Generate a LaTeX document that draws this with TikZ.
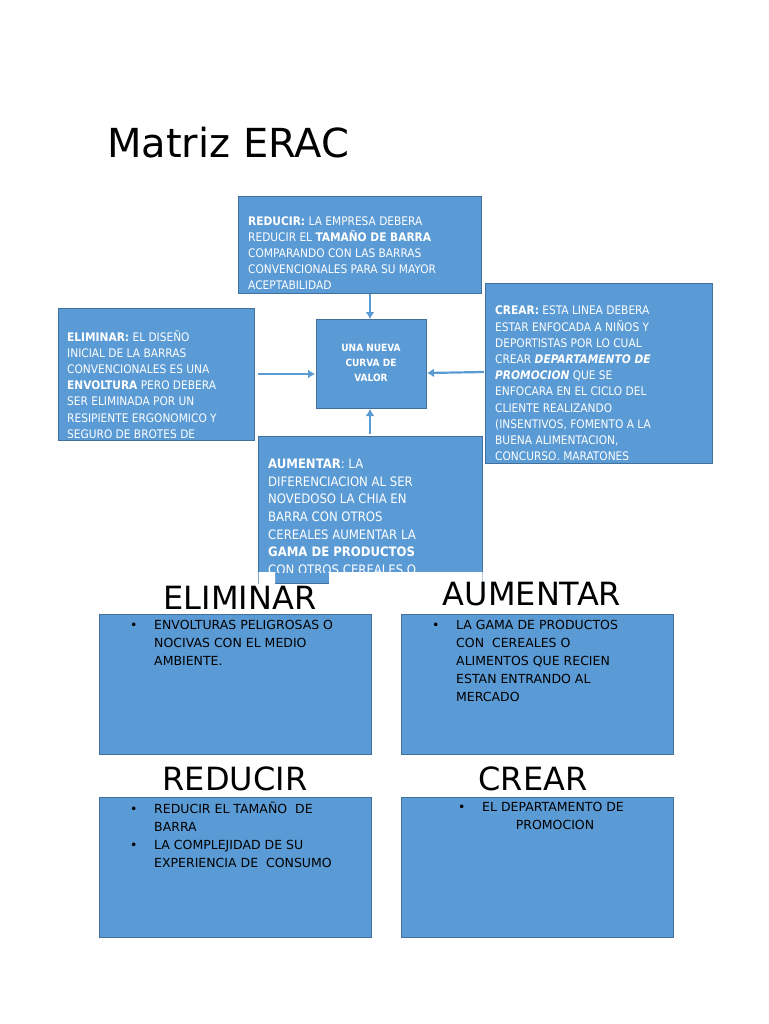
\documentclass[tikz,border=0pt]{standalone}
\usetikzlibrary{arrows.meta}
\usepackage{fontspec}
\setmainfont{DejaVu Sans}
\newfontfamily\cond{DejaVu Sans Condensed}
\definecolor{bfill}{HTML}{5B9BD5}
\definecolor{bline}{HTML}{41719C}
\begin{document}
\begin{tikzpicture}[x=1pt,y=-1pt,
  bx/.style={fill=bfill,draw=bline,line width=0.8pt},
  wt/.style={anchor=north west,inner sep=0pt,align=left,text=white},
  arr/.style={draw=bfill,line width=2.2pt,-{Latex[length=7pt,width=9pt]}},
  head/.style={font=\fontsize{32}{36}\selectfont,inner sep=0pt},
  bl/.style={anchor=north west,inner sep=0pt,align=left,font=\fontsize{12.5}{18}\selectfont}]
\useasboundingbox (0,0) rectangle (768,1024);
\node[anchor=base west,inner sep=0pt,font=\fontsize{40}{44}\selectfont] (title) at (107,158) {Matriz ERAC};
% reducir
\draw[bx] (238,196) rectangle (481,293);
\begin{scope}\clip (238,196) rectangle (481,290);
\node[wt,font=\cond\fontsize{11.8}{16}\selectfont] (tr) at (248,217) {\textbf{REDUCIR:} LA EMPRESA DEBERA\\REDUCIR EL \textbf{TAMAÑO DE BARRA}\\COMPARANDO CON LAS BARRAS\\CONVENCIONALES PARA SU MAYOR\\ACEPTABILIDAD};
\end{scope}
\coordinate (rb) at (370,294);
% center
\draw[bx] (316,319) rectangle (426,408);
\node[align=center,text=white,font=\cond\bfseries\fontsize{10}{15}\selectfont] (c) at (371,363) {UNA NUEVA\\CURVA DE\\VALOR};
\coordinate (ct) at (370,319);\coordinate (cb) at (370,409);\coordinate (cl) at (315,374);\coordinate (cr) at (427,373);
% eliminar
\draw[bx] (58,308) rectangle (254,440);
\begin{scope}\clip (58,308) rectangle (254,437);
\node[wt,font=\cond\fontsize{11.8}{16.2}\selectfont] (te) at (67,330) {\textbf{ELIMINAR:} EL DISEÑO\\INICIAL DE LA BARRAS\\CONVENCIONALES ES UNA\\\textbf{ENVOLTURA} PERO DEBERA\\SER ELIMINADA POR UN\\RESIPIENTE ERGONOMICO Y\\SEGURO DE BROTES DE};
\end{scope}
\coordinate (eb) at (258,374);
% crear
\draw[bx] (485,283) rectangle (712,463);
\begin{scope}\clip (485,283) rectangle (712,459);
\node[wt,font=\cond\fontsize{11.8}{16.2}\selectfont] (tc) at (495,306) {\textbf{CREAR:} ESTA LINEA DEBERA\\ESTAR ENFOCADA A NIÑOS Y\\DEPORTISTAS POR LO CUAL\\CREAR \textbf{\itshape DEPARTAMENTO DE}\\\textbf{\itshape PROMOCION} QUE SE\\ENFOCARA EN EL CICLO DEL\\CLIENTE REALIZANDO\\(INSENTIVOS, FOMENTO A LA\\BUENA ALIMENTACION,\\CONCURSO, MARATONES};
\end{scope}
\coordinate (crb) at (484,372);
% aumentar
\draw[bx] (258,436) rectangle (482,583);
\begin{scope}\clip (258,436) rectangle (482,572);
\node[wt,font=\cond\fontsize{13}{17.6}\selectfont] (ta) at (268,459) {\textbf{AUMENTAR}: LA\\DIFERENCIACION AL SER\\NOVEDOSO LA CHIA EN\\BARRA CON OTROS\\CEREALES AUMENTAR LA\\\textbf{GAMA DE PRODUCTOS}\\CON OTROS CEREALES O};
\end{scope}
\fill[white] (258.5,572) rectangle (275,584) (329,572) rectangle (482.5,584);
\coordinate (ab) at (370,434);
\draw[arr] (rb) -- (ct);
\draw[arr] (eb) -- (cl);
\draw[arr] (crb) -- (cr);
\draw[arr] (ab) -- (cb);
% bottom
\node[head] (h1) at (240,598) {ELIMINAR};
\node[head] (h2) at (532,594) {AUMENTAR};
\node[head] (h3) at (235,779) {REDUCIR};
\node[head] (h4) at (533,779) {CREAR};
\draw[bx] (99,614) rectangle (371,754);
\draw[bx] (401,614) rectangle (673,754);
\draw[bx] (99,797) rectangle (371,937);
\draw[bx] (401,797) rectangle (673,937);
\node[bl] (b1) at (130,620) {\makebox[24pt][l]{•}ENVOLTURAS PELIGROSAS O\\\hspace*{24pt}NOCIVAS CON EL MEDIO\\\hspace*{24pt}AMBIENTE.};
\node[bl] (b2) at (432,620) {\makebox[24pt][l]{•}LA GAMA DE PRODUCTOS\\\hspace*{24pt}CON \ CEREALES O\\\hspace*{24pt}ALIMENTOS QUE RECIEN\\\hspace*{24pt}ESTAN ENTRANDO AL\\\hspace*{24pt}MERCADO};
\node[bl] (b3) at (130,802) {\makebox[24pt][l]{•}REDUCIR EL TAMAÑO \ DE\\\hspace*{24pt}BARRA\\\makebox[24pt][l]{•}LA COMPLEJIDAD DE SU\\\hspace*{24pt}EXPERIENCIA DE \ CONSUMO};
\node[bl] (b4) at (458,802) {\makebox[24pt][l]{•}EL DEPARTAMENTO DE};
\node[anchor=north,inner sep=0pt,font=\fontsize{12.5}{18}\selectfont] (b4b) at (555,820) {PROMOCION};
\end{tikzpicture}
\end{document}
